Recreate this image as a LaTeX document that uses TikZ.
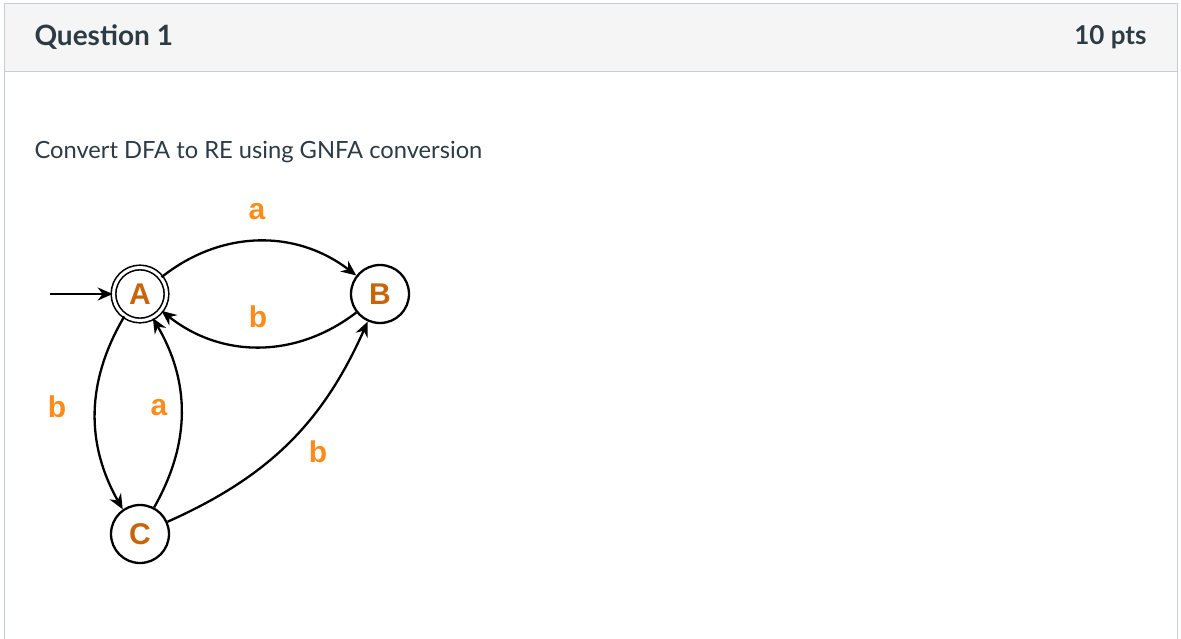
\documentclass[tikz,border=0pt]{standalone}
\usepackage{fontspec}
\setmainfont{Lato}
\newfontfamily\arialf{Liberation Sans}
\usetikzlibrary{arrows.meta}
\definecolor{lbl}{HTML}{FF8C1A}
\definecolor{stl}{HTML}{C8650A}
\definecolor{bord}{HTML}{C7CDD1}
\definecolor{hdr}{HTML}{F5F5F5}
\definecolor{txt}{HTML}{2D3B45}
\begin{document}
\begin{tikzpicture}[x=1pt,y=-1pt,
  st/.style={circle,draw,line width=2.3pt,minimum size=58pt,inner sep=0pt,font=\arialf\bfseries\fontsize{30}{30}\selectfont,text=stl},
  acc/.style={st,double,double distance=3pt,minimum size=53pt,line width=1.6pt},
  lb/.style={font=\arialf\bfseries\fontsize{30}{30}\selectfont,text=lbl},
  tr/.style={-{Stealth[length=15pt,width=13pt]},line width=2.3pt}]
\useasboundingbox (0,0) rectangle (1181,639);
\fill[white] (0,0) rectangle (1181,639);
\fill[hdr] (4,4) rectangle (1177,72);
\draw[bord,line width=1pt] (4,645) -- (4,4) -- (1177,4) -- (1177,645);
\draw[bord,line width=1pt] (4,72) -- (1177,72);
\node[anchor=west,text=txt,font=\bfseries\fontsize{28}{28}\selectfont] (q) at (31,37) {Question 1};
\node[anchor=east,text=txt,font=\bfseries\fontsize{26}{26}\selectfont] (p) at (1150,37) {10 pts};
\node[anchor=west,text=txt,font=\fontsize{23.7}{24}\selectfont] (t) at (31,152) {Convert DFA to RE using GNFA conversion};
\node[acc] (A) at (140,294) {A};
\node[st] (B) at (380,294) {B};
\node[st] (C) at (140,534) {C};
\coordinate (s) at (50,294);
\draw[tr] (s) -- (A);
\draw[tr] (A) to[bend left=38] (B);
\draw[tr] (B) to[bend left=38] (A);
\draw[tr] (A.-125) to[bend right=30] (C.125);
\draw[tr] (C.62) to[bend right=30] (A.-62);
\draw[tr] (C) to[bend right=21] (B);
\node[lb] (l1) at (257,212) {a};
\node[lb] (l2) at (258,317) {b};
\node[lb] (l3) at (57,407) {b};
\node[lb] (l4) at (159,408) {a};
\node[lb] (l5) at (318,452) {b};
\end{tikzpicture}
\end{document}
